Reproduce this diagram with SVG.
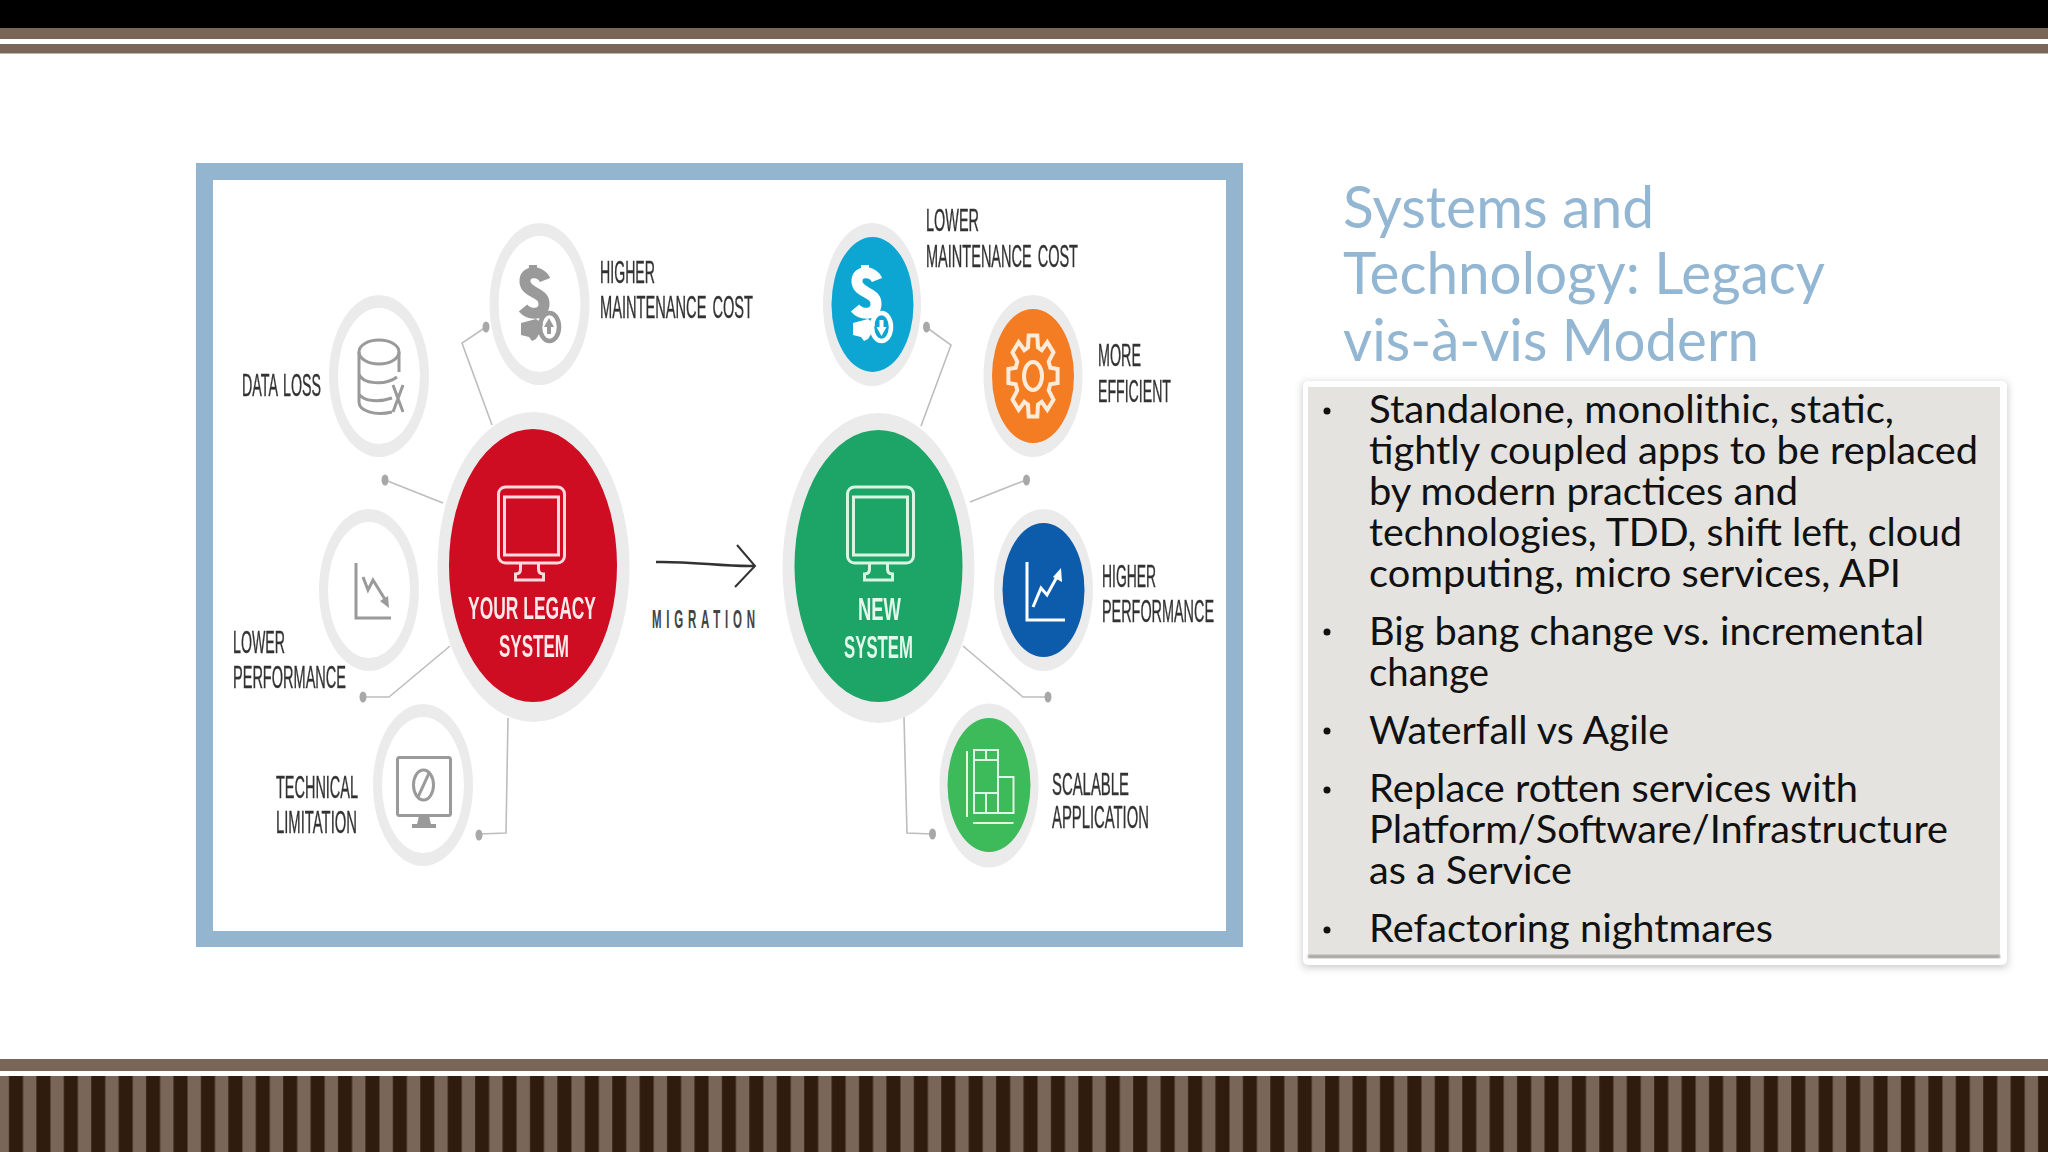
<svg xmlns="http://www.w3.org/2000/svg" width="2048" height="1152" viewBox="0 0 2048 1152">
<style>
.band{fill:#7a6659}
.halo{fill:#ebebeb}
.ring{fill:#fff}
.lbl{font-family:"Liberation Sans",Arial,sans-serif;font-size:31px;fill:#333;stroke:#333;stroke-width:.4;word-spacing:4px}
.cap{font-family:"Liberation Sans",Arial,sans-serif;font-size:32px;font-weight:bold}
.conn{fill:none;stroke:#bdbdbd;stroke-width:1.6}
.dot{fill:#a8a8a8}
.title{font-family:Lato,"Open Sans",sans-serif;font-size:58px;fill:#93b6d2}
.body{font-family:Lato,"Open Sans",sans-serif;font-size:38px;fill:#111}
.bul{fill:#111}
.ic{fill:none;stroke:#9a9a9a;stroke-width:3}
.icw{fill:none;stroke:#fff;stroke-width:3}
</style>
<defs>
<pattern id="stripes" x="0" y="1076" width="27.42" height="76" patternUnits="userSpaceOnUse">
<rect width="27.42" height="76" fill="#7a6659"/>
<rect x="9" width="14" height="76" fill="#301c0e"/>
</pattern>
<filter id="shadow" x="-5%" y="-5%" width="110%" height="110%"><feGaussianBlur stdDeviation="4"/></filter>
<filter id="soft" x="-2%" y="-2%" width="104%" height="104%"><feGaussianBlur stdDeviation=".7"/></filter>
<filter id="bevel" x="-2%" y="-20%" width="104%" height="140%"><feGaussianBlur stdDeviation="1.200"/></filter>
<g id="mon">
<rect x="-33" y="-46" width="66" height="76" rx="7"/>
<rect x="-27" y="-36" width="54" height="58"/>
<path d="M-11 30V36Q-11 41-16 41V47H12V41Q7 41 7 36V30"/>
</g>
<g id="dollar">
<path d="M-8 -24C-12 -34-29-34-28-22C-27-10-8-13-9 1C-10 12-24 11-30 4" fill="none" stroke-width="11" stroke="currentColor"/>
<path d="M-20-39V-30M-20 7V14" fill="none" stroke-width="8" stroke="currentColor"/>
<path d="M-32 19L-17 15L-10 20L-12 27L-17 35L-21 37L-24 33L-32 31Z" fill="currentColor"/>
<ellipse cx="-3.500" cy="23" rx="9.500" ry="14" fill="none" stroke-width="4.500" stroke="currentColor"/>
</g>
</defs>

<rect width="2048" height="1152" fill="#fff"/>
<g id="top-bands">
<rect width="2048" height="28" fill="#000"/>
<rect y="28" width="2048" height="11" class="band"/>
<rect y="44" width="2048" height="9.500" class="band"/>
</g>
<g id="bottom-bands">
<rect y="1059" width="2048" height="12" class="band"/>
<rect y="1076" width="2048" height="76" fill="url(#stripes)"/>
</g>

<rect id="frame" x="196" y="163" width="1047" height="784" fill="#93b5d0"/>
<rect id="picture" x="213" y="180" width="1013" height="751" fill="#fff"/>

<g id="connectors" filter="url(#soft)">
<path class="conn" d="M486 327L462 343L492 425"/>
<path class="conn" d="M385 480L443 503"/>
<path class="conn" d="M363 697H389L450 646"/>
<path class="conn" d="M479 834L506 833L508 718"/>
<path class="conn" d="M926 327L951 345L921 426"/>
<path class="conn" d="M1026 480L970 502"/>
<path class="conn" d="M963 646L1023 697H1048"/>
<path class="conn" d="M904 717L907 833L932 834"/>
<ellipse class="dot" cx="486" cy="327" rx="3.500" ry="5.500"/>
<ellipse class="dot" cx="385" cy="480" rx="3.500" ry="5.500"/>
<ellipse class="dot" cx="363" cy="697" rx="3.500" ry="5.500"/>
<ellipse class="dot" cx="479" cy="835" rx="3.500" ry="5.500"/>
<ellipse class="dot" cx="926.500" cy="327" rx="3.500" ry="5.500"/>
<ellipse class="dot" cx="1026.500" cy="480" rx="3.500" ry="5.500"/>
<ellipse class="dot" cx="1048" cy="697" rx="3.500" ry="5.500"/>
<ellipse class="dot" cx="932.500" cy="834" rx="3.500" ry="5.500"/>
<path d="M656 562C690 561 725 567 755 566" fill="none" stroke="#333" stroke-width="2.500"/>
<path d="M737 545L755 566L735 587" fill="none" stroke="#333" stroke-width="2"/>
</g>

<g id="legacy" filter="url(#soft)">
<ellipse class="halo" cx="533.500" cy="567" rx="96" ry="155"/>
<ellipse cx="533" cy="565.500" rx="84" ry="136.500" fill="#cf0a20"/>
<use href="#mon" x="531.500" y="533" fill="none" stroke="#fbd9dc" stroke-width="3"/>
<text class="cap" fill="#fbe9ea" x="468" y="619" textLength="128" lengthAdjust="spacingAndGlyphs">YOUR LEGACY</text>
<text class="cap" fill="#fbe9ea" x="499" y="657" textLength="70" lengthAdjust="spacingAndGlyphs">SYSTEM</text>
</g>

<g id="new-system" filter="url(#soft)">
<ellipse class="halo" cx="878.500" cy="568" rx="96" ry="155"/>
<ellipse cx="878.500" cy="566" rx="84" ry="136" fill="#1ba566"/>
<use href="#mon" x="880.500" y="533" fill="none" stroke="#d8f5e4" stroke-width="3"/>
<text class="cap" fill="#e4f7ec" x="858" y="620" textLength="43" lengthAdjust="spacingAndGlyphs">NEW</text>
<text class="cap" fill="#e4f7ec" x="844" y="658" textLength="69" lengthAdjust="spacingAndGlyphs">SYSTEM</text>
</g>

<g id="high-cost" filter="url(#soft)">
<ellipse class="halo" cx="539.500" cy="304" rx="50" ry="81"/><ellipse class="ring" cx="539.500" cy="304" rx="41" ry="68"/>
<use href="#dollar" x="553" y="304" color="#9a9a9a"/>
<path d="M549 318L544 327H547V334H551V327H554Z" fill="#9a9a9a"/>
<text class="lbl" x="600" y="283" textLength="55" lengthAdjust="spacingAndGlyphs">HIGHER</text>
<text class="lbl" x="600" y="318" textLength="153" lengthAdjust="spacingAndGlyphs">MAINTENANCE COST</text>
</g>

<g id="data-loss" filter="url(#soft)">
<ellipse class="halo" cx="379" cy="376" rx="50" ry="81"/><ellipse class="ring" cx="379" cy="376" rx="41" ry="68"/>
<g class="ic"><ellipse cx="379" cy="352" rx="20" ry="12"/>
<path d="M359 352V402C359 411 375 416 392 412M359 374C362 384 385 386 397 377M359 394C364 402 380 402 392 398M399 352V372"/>
<path d="M393 385L403 412M403 385L393 412"/></g>
<text class="lbl" x="242" y="395.500" textLength="79" lengthAdjust="spacingAndGlyphs">DATA LOSS</text>
</g>

<g id="low-perf" filter="url(#soft)">
<ellipse class="halo" cx="369" cy="590" rx="50" ry="81"/><ellipse class="ring" cx="369" cy="590" rx="41" ry="68"/>
<path class="ic" d="M356 563V618H391" stroke-width="4"/>
<path class="ic" d="M363 577L368 590L373 580L386 601"/>
<path d="M389 608L380 601L388 596Z" fill="#9a9a9a"/>
<text class="lbl" x="233" y="652.500" textLength="52" lengthAdjust="spacingAndGlyphs">LOWER</text>
<text class="lbl" x="233" y="687.500" textLength="113" lengthAdjust="spacingAndGlyphs">PERFORMANCE</text>
</g>

<g id="tech-limit" filter="url(#soft)">
<ellipse class="halo" cx="423" cy="785" rx="50" ry="81"/><ellipse class="ring" cx="423" cy="785" rx="41" ry="68"/>
<rect class="ic" x="397.500" y="757.500" width="53" height="58" rx="2"/>
<ellipse class="ic" cx="423.500" cy="785" rx="10" ry="15" stroke-width="2"/>
<path class="ic" d="M418 797L429 773" stroke-width="2"/>
<path d="M419 816H429L431 824H436V828H412V824H417Z" fill="#9a9a9a"/>
<text class="lbl" x="276" y="797.500" textLength="82" lengthAdjust="spacingAndGlyphs">TECHNICAL</text>
<text class="lbl" x="276" y="832.500" textLength="81" lengthAdjust="spacingAndGlyphs">LIMITATION</text>
</g>

<g id="lower-cost" filter="url(#soft)">
<ellipse class="halo" cx="872" cy="304.500" rx="49" ry="81.500"/>
<ellipse cx="872.500" cy="304.500" rx="41" ry="67.500" fill="#0ea5d2"/>
<use href="#dollar" x="885" y="304" color="#fff"/>
<path d="M881.500 336L876.500 327H879.500V320H883.500V327H886.500Z" fill="#fff"/>
<text class="lbl" x="926" y="230.500" textLength="53" lengthAdjust="spacingAndGlyphs">LOWER</text>
<text class="lbl" x="926" y="266.500" textLength="152" lengthAdjust="spacingAndGlyphs">MAINTENANCE COST</text>
</g>

<g id="efficient" filter="url(#soft)">
<ellipse class="halo" cx="1033" cy="376" rx="49.500" ry="81"/>
<ellipse cx="1033" cy="376" rx="41" ry="67" fill="#f47b20"/>
<polygon transform="translate(1033 376) scale(1 1.65)" fill="none" stroke="#fdebd9" stroke-width="4" vector-effect="non-scaling-stroke" points="24.600,4.300 17.300,5 15.700,8.700 20.500,14.300 14.300,20.500 8.700,15.700 5,17.300 4.300,24.600 -4.300,24.600 -5,17.300 -8.700,15.700 -14.300,20.500 -20.500,14.300 -15.700,8.700 -17.300,5 -24.600,4.300 -24.600,-4.300 -17.300,-5 -15.700,-8.700 -20.500,-14.300 -14.300,-20.500 -8.700,-15.700 -5,-17.300 -4.300,-24.600 4.300,-24.600 5,-17.300 8.700,-15.700 14.300,-20.500 20.500,-14.300 15.700,-8.700 17.300,-5 24.600,-4.300"/>
<ellipse cx="1033" cy="376" rx="9" ry="14" fill="none" stroke="#fdebd9" stroke-width="4"/>
<text class="lbl" x="1098" y="365.500" textLength="43" lengthAdjust="spacingAndGlyphs">MORE</text>
<text class="lbl" x="1098" y="401.500" textLength="73" lengthAdjust="spacingAndGlyphs">EFFICIENT</text>
</g>

<g id="higher-perf" filter="url(#soft)">
<ellipse class="halo" cx="1043.500" cy="590" rx="49.500" ry="81"/>
<ellipse cx="1043.500" cy="590" rx="41" ry="67" fill="#0f5cab"/>
<path class="icw" d="M1027 562V620H1065"/>
<path class="icw" stroke-width="4" d="M1033 607L1041 588L1047 595L1058 575"/>
<path d="M1061 568L1062 582L1053 577Z" fill="#fff"/>
<text class="lbl" x="1102" y="586.500" textLength="54" lengthAdjust="spacingAndGlyphs">HIGHER</text>
<text class="lbl" x="1102" y="621.500" textLength="112" lengthAdjust="spacingAndGlyphs">PERFORMANCE</text>
</g>

<g id="scalable" filter="url(#soft)">
<ellipse class="halo" cx="989" cy="785.500" rx="49.500" ry="82"/>
<ellipse cx="989" cy="785" rx="41.500" ry="67" fill="#3dbb5a"/>
<g fill="none" stroke="#dff6e4" stroke-width="2">
<rect x="974" y="750" width="24" height="63"/>
<path d="M974 760H998M986 750V760M974 793H998M986 793V813"/>
<path d="M998 777H1013.500V813H998"/>
<path d="M967 751V817M973 823H1013.500"/>
</g>
<text class="lbl" x="1052" y="795" textLength="77" lengthAdjust="spacingAndGlyphs">SCALABLE</text>
<text class="lbl" x="1052" y="827.500" textLength="97" lengthAdjust="spacingAndGlyphs">APPLICATION</text>
</g>

<text id="migration" transform="translate(652 628) scale(.46 1)" font-family="Liberation Sans, Arial, sans-serif" font-size="25" font-weight="bold" fill="#444" textLength="224" lengthAdjust="spacing">MIGRATION</text>

<g id="title" class="title">
<text x="1343" y="228" textLength="311" lengthAdjust="spacingAndGlyphs">Systems and</text>
<text x="1343" y="294" textLength="482" lengthAdjust="spacingAndGlyphs">Technology: Legacy</text>
<text x="1343" y="361" textLength="416" lengthAdjust="spacingAndGlyphs">vis-à-vis Modern</text>
</g>

<g id="content">
<rect x="1303" y="383" width="704" height="584" fill="#888" opacity=".5" filter="url(#shadow)"/>
<rect x="1303" y="381" width="704" height="584" rx="5" fill="#fff"/>
<rect x="1308" y="387" width="692" height="571" fill="#e4e3df"/>
<rect x="1308" y="955" width="692" height="3" fill="#9c9b97" filter="url(#bevel)"/>
<g class="body">
<text x="1369" y="423" textLength="525" lengthAdjust="spacingAndGlyphs">Standalone, monolithic, static,</text>
<text x="1369" y="464" textLength="609" lengthAdjust="spacingAndGlyphs">tightly coupled apps to be replaced</text>
<text x="1369" y="505" textLength="429" lengthAdjust="spacingAndGlyphs">by modern practices and</text>
<text x="1369" y="546" textLength="593" lengthAdjust="spacingAndGlyphs">technologies, TDD, shift left, cloud</text>
<text x="1369" y="587" textLength="532" lengthAdjust="spacingAndGlyphs">computing, micro services, API</text>
<text x="1369" y="645" textLength="555" lengthAdjust="spacingAndGlyphs">Big bang change vs. incremental</text>
<text x="1369" y="686" textLength="120" lengthAdjust="spacingAndGlyphs">change</text>
<text x="1369" y="744" textLength="300" lengthAdjust="spacingAndGlyphs">Waterfall vs Agile</text>
<text x="1369" y="802" textLength="489" lengthAdjust="spacingAndGlyphs">Replace rotten services with</text>
<text x="1369" y="843" textLength="579" lengthAdjust="spacingAndGlyphs">Platform/Software/Infrastructure</text>
<text x="1369" y="884" textLength="203" lengthAdjust="spacingAndGlyphs">as a Service</text>
<text x="1369" y="942" textLength="404" lengthAdjust="spacingAndGlyphs">Refactoring nightmares</text>
</g>
<circle class="bul" cx="1327" cy="411" r="3.500"/>
<circle class="bul" cx="1327" cy="632" r="3.500"/>
<circle class="bul" cx="1327" cy="731" r="3.500"/>
<circle class="bul" cx="1327" cy="790" r="3.500"/>
<circle class="bul" cx="1327" cy="930" r="3.500"/>
</g>
</svg>
